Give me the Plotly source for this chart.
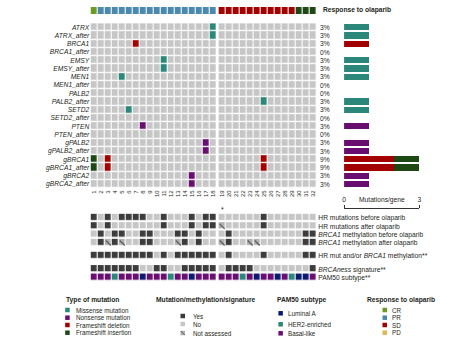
import plotly.graph_objects as go

# ---------------- data ----------------
patients = list(range(1, 33))
response = ["CR", "PR", "PR", "PR", "PR", "PR", "PR", "PR", "PR", "PR", "PR", "PR", "PR", "PR", "PR", "PR",
            "PR", "PR", "SD", "SD", "SD", "SD", "SD", "SD", "SD", "SD", "SD", "SD", "SD", "PD", "PD", "PD"]
genes = ["ATRX", "ATRX_after", "BRCA1", "BRCA1_after", "EMSY", "EMSY_after", "MEN1", "MEN1_after",
         "PALB2", "PALB2_after", "SETD2", "SETD2_after", "PTEN", "PTEN_after", "gPALB2", "gPALB2_after",
         "gBRCA1", "gBRCA1_after", "gBRCA2", "gBRCA2_after"]
mut_gene = ["ATRX", "ATRX_after", "BRCA1", "EMSY", "EMSY_after", "MEN1", "PALB2_after", "SETD2", "PTEN",
            "gPALB2", "gPALB2_after", "gBRCA1", "gBRCA1", "gBRCA1", "gBRCA1_after", "gBRCA1_after",
            "gBRCA1_after", "gBRCA2", "gBRCA2_after"]
mut_patient = [18, 18, 7, 11, 11, 5, 25, 6, 8, 17, 17, 1, 3, 25, 1, 3, 25, 15, 15]
mut_type = ["Missense", "Missense", "Frameshift deletion", "Missense", "Missense", "Missense", "Missense",
            "Missense", "Nonsense", "Nonsense", "Nonsense", "Frameshift insertion", "Frameshift deletion",
            "Frameshift deletion", "Frameshift insertion", "Frameshift deletion", "Frameshift deletion",
            "Nonsense", "Nonsense"]
mut_types = ["Missense", "Nonsense", "Frameshift deletion", "Frameshift insertion"]

track_labels = ["HR mutations before olaparib", "HR mutations after olaparib",
                "<i>BRCA1</i> methylation before olaparib", "<i>BRCA1</i> methylation after olaparib",
                "HR mut and/or <i>BRCA1</i> methylation**", "<i>BRCAness</i> signature**", "PAM50 subtype**"]
# 1 = yes, 0 = no, -1 = not assessed
hr_before = [1, 0, 1, 0, 1, 1, 1, 1, 0, 0, 1, 0, 0, 0, 1, 0, 1, 1, 0, 0, 0, 0, 0, 0, 1, 0, 0, 0, 0, 0, 0, 0]
hr_after = [1, 0, 1, 0, 0, 0, 0, 0, 0, 0, 1, 0, 0, 0, 1, 0, 1, 1, -1, 0, 0, 0, 0, 0, 1, 0, 0, 0, 0, 0, 0, 0]
meth_before = [0, 1, 0, 1, 1, 0, 0, 1, 1, 0, 0, 0, 1, 1, 0, 1, 0, 0, 0, 1, 0, 0, 0, 0, 0, 0, 0, 0, 0, 0, 1, 1]
meth_after = [0, 1, -1, 1, -1, 0, 0, 1, 1, 0, 0, 0, -1, 1, 0, 1, 0, 0, -1, 1, 0, 0, -1, -1, 0, 0, 0, 0, 0, 0, 1, 1]
hr_or_meth = [1, 1, 1, 1, 1, 1, 1, 1, 1, 0, 1, 0, 1, 1, 1, 1, 1, 1, 0, 1, 0, 0, 0, 0, 1, 0, 0, 0, 0, 0, 1, 1]
brcaness = [1, 1, 1, 1, 1, 1, 1, 0, 0, 1, 1, 0, 0, 1, 1, 1, 1, 1, 0, 1, 1, 1, 1, 0, 0, 0, 0, 0, 0, 0, 0, 1]
pam50 = ["Basal-like", "Basal-like", "Basal-like", "HER2-enriched", "Basal-like", "Basal-like", "Basal-like",
         "Luminal A", "Basal-like", "Basal-like", "Basal-like", "HER2-enriched", "Basal-like", "Basal-like",
         "Luminal A", "Basal-like", "Basal-like", "Basal-like", "Basal-like", "Basal-like", "Basal-like",
         "HER2-enriched", "Basal-like", "Luminal A", "Basal-like", "Basal-like", "Luminal A", "Basal-like",
         "HER2-enriched", "Luminal A", "Luminal A", "Basal-like"]

leg_mut_labels = ["Missense mutation", "Nonsense mutation", "Frameshift deletion", "Frameshift insertion"]
leg_status_labels = ["Yes", "No", "Not assessed"]
leg_pam_labels = ["Luminal A", "HER2-enriched", "Basal-like"]
leg_resp_labels = ["CR", "PR", "SD", "PD"]

# ---------------- styles ----------------
W, H = 474, 341
FONT = "Liberation Sans, Arial, Helvetica, sans-serif"
TXT = "#231f20"
COL = {
    "none": "#c6c6c6", "Missense": "#2a8779", "Nonsense": "#6a0d70",
    "Frameshift deletion": "#a30000", "Frameshift insertion": "#1d4813",
    "yes": "#3c3c3c", "na": "#b0b0b0",
    "CR": "#6c9b21", "PR": "#4a88ae", "SD": "#a30000", "PD": "#1d4813",
    "Luminal A": "#0b1a70", "HER2-enriched": "#2a8779", "Basal-like": "#6a0d70",
}
PD_LEGEND = "#e2b84c"
keys = list(COL.keys())
code = {k: i for i, k in enumerate(keys)}
n = len(keys)
cscale = []
for i, k in enumerate(keys):
    cscale += [[i / n, COL[k]], [(i + 1) / n, COL[k]]]

X_DOM = (89, 318)
PXC = 7.07
GAP = 0.25


def xpos(p):
    return p + (GAP if p > 18 else 0)


def py(v):
    return 1 - v / H


def pxx(v):
    return v / W


halves = [[p for p in patients if p <= 18], [p for p in patients if p > 18]]

fig = go.Figure()


def add_hm(cols_vals, yval, yaxis, ygap):
    # cols_vals: full list of 32 codes for a row, or list of rows
    rows = cols_vals
    for half in halves:
        z = [[r[p - 1] for p in half] for r in rows]
        fig.add_trace(go.Heatmap(
            x=[xpos(p) for p in half], y=yval, z=z, colorscale=cscale, zmin=-0.5, zmax=n - 0.5,
            showscale=False, xgap=1.1, ygap=ygap, xaxis="x", yaxis=yaxis, hoverinfo="skip"))


# response row
add_hm([[code[r] for r in response]], [0], "y", 0)

# mutation grid
grid = [[code["none"]] * len(patients) for _ in genes]
for g, p, t in zip(mut_gene, mut_patient, mut_type):
    grid[genes.index(g)][p - 1] = code[t]
add_hm(grid, list(range(len(genes))), "y2", 1.3)

# bars (mutations per gene)
for t in mut_types:
    counts = [sum(1 for g2, t2 in zip(mut_gene, mut_type) if g2 == g and t2 == t) for g in genes]
    fig.add_trace(go.Bar(x=counts, y=list(range(len(genes))), orientation="h", width=0.74,
                         marker=dict(color=COL[t], line=dict(width=0)), xaxis="x2", yaxis="y2",
                         hoverinfo="skip"))

# bottom tracks
TRACK_POS = [0, 1, 2, 3, 4.55, 6.14, 7.16]
status_tracks = [hr_before, hr_after, meth_before, meth_after, hr_or_meth, brcaness]
smap = {1: code["yes"], 0: code["none"], -1: code["na"]}
for tr, pos in zip(status_tracks, TRACK_POS):
    add_hm([[smap[v] for v in tr]], [pos], "y3", 1.8)
add_hm([[code[v] for v in pam50]], [TRACK_POS[6]], "y3", 1.8)
# hatching for not assessed
hx, hy = [], []
for tr, pos in zip(status_tracks, TRACK_POS):
    for p, v in zip(patients, tr):
        if v == -1:
            hx.append(xpos(p))
            hy.append(pos)
fig.add_trace(go.Scatter(x=hx, y=hy, mode="markers", xaxis="x", yaxis="y3", hoverinfo="skip",
                         marker=dict(symbol="line-nw", size=5, line=dict(color="#5e5e5e", width=1.2))))

# percentages
annotations = []
for i, g in enumerate(genes):
    c = sum(1 for g2 in mut_gene if g2 == g)
    annotations.append(dict(text=f"{round(100 * c / len(patients))}%", x=pxx(319), xref="paper",
                            y=i, yref="y2", xanchor="left", yanchor="middle", showarrow=False,
                            font=dict(size=6.7, color=TXT, family=FONT)))
annotations.append(dict(text="Mutations/gene", x=pxx(383), xref="paper", y=py(199.5), yref="paper",
                        xanchor="center", yanchor="middle", showarrow=False,
                        font=dict(size=6.7, color=TXT, family=FONT)))
annotations.append(dict(text="<b>Response to olaparib</b>", x=pxx(321.5), xref="paper", y=py(10.5),
                        yref="paper", xanchor="left", yanchor="middle", showarrow=False,
                        font=dict(size=6.7, color=TXT, family=FONT)))
annotations.append(dict(text="*", x=xpos(19), xref="x", y=py(209.5), yref="paper", xanchor="center",
                        yanchor="middle", showarrow=False, font=dict(size=7, color=TXT, family=FONT)))

# legends
groups = [
    dict(title="Type of mutation", tx=63, mx=66, lx=73, ys=[310, 317.7, 325, 332.7],
         labels=leg_mut_labels, colors=[COL[t] for t in mut_types], hatch=[]),
    dict(title="Mutation/methylation/signature", tx=153, mx=182.3, lx=190.5, ys=[316, 324, 333],
         labels=leg_status_labels, colors=[COL["yes"], COL["none"], COL["na"]], hatch=[2]),
    dict(title="PAM50 subtype", tx=275, mx=281, lx=286.5, ys=[313.3, 324.3, 333.3],
         labels=leg_pam_labels, colors=[COL[k] for k in leg_pam_labels], hatch=[]),
    dict(title="Response to olaparib", tx=366, mx=386, lx=391.5, ys=[310, 317.7, 325, 332.7],
         labels=leg_resp_labels, colors=[COL["CR"], COL["PR"], COL["SD"], PD_LEGEND], hatch=[]),
]
for gr in groups:
    annotations.append(dict(text=f"<b>{gr['title']}</b>", x=pxx(gr["tx"]), xref="paper", y=py(300),
                            yref="paper", xanchor="left", yanchor="middle", showarrow=False,
                            font=dict(size=6.7, color=TXT, family=FONT)))
    fig.add_trace(go.Scatter(x=[gr["mx"]] * len(gr["ys"]), y=gr["ys"], mode="markers", xaxis="x3",
                             yaxis="y4", hoverinfo="skip",
                             marker=dict(symbol="square", size=4.5, color=gr["colors"], line=dict(width=0))))
    for hi in gr["hatch"]:
        fig.add_trace(go.Scatter(x=[gr["mx"]], y=[gr["ys"][hi]], mode="markers", xaxis="x3", yaxis="y4",
                                 hoverinfo="skip",
                                 marker=dict(symbol="line-nw", size=4, line=dict(color="#5e5e5e", width=1))))
    for lab, yy in zip(gr["labels"], gr["ys"]):
        annotations.append(dict(text=lab, x=pxx(gr["lx"]), xref="paper", y=py(yy), yref="paper",
                                xanchor="left", yanchor="middle", showarrow=False,
                                font=dict(size=6.3, color=TXT, family=FONT)))

x_r0 = 1 - 4 / PXC
x_r1 = x_r0 + (X_DOM[1] - X_DOM[0]) / PXC
U3 = 8.345

fig.update_layout(
    width=W, height=H, margin=dict(l=0, r=0, t=0, b=0),
    paper_bgcolor="white", plot_bgcolor="rgba(0,0,0,0)", showlegend=False, barmode="stack",
    font=dict(family=FONT, color=TXT, size=6.7),
    xaxis=dict(domain=[pxx(X_DOM[0]), pxx(X_DOM[1])], range=[x_r0, x_r1], anchor="y2",
               tickvals=[xpos(p) for p in patients], ticktext=[str(p) for p in patients],
               tickangle=-90, tickfont=dict(size=6, color=TXT), ticks="", showgrid=False,
               zeroline=False, showline=False),
    yaxis=dict(domain=[py(14), py(7)], range=[-0.5, 0.5], anchor="x", visible=False),
    yaxis2=dict(domain=[py(27.3 + 19.5 * 8.25), py(27.3 - 0.5 * 8.25)], range=[19.5, -0.5], anchor="x",
                tickvals=list(range(len(genes))), ticktext=[f"<i>{g}</i>" for g in genes],
                tickfont=dict(size=6.7, color=TXT), ticks="", showgrid=False, zeroline=False,
                showline=False),
    yaxis3=dict(domain=[py(218 + 7.8 * U3), py(218 - 0.6 * U3)], range=[7.8, -0.6], anchor="x",
                side="right", tickvals=TRACK_POS, ticktext=track_labels,
                tickfont=dict(size=6.7, color=TXT), ticks="", showgrid=False, zeroline=False,
                showline=False),
    xaxis2=dict(domain=[pxx(345), pxx(421)], range=[0, 3], anchor="free", position=py(208), side="top",
                showline=True, linecolor="#333", linewidth=1, ticks="outside", ticklen=3,
                tickcolor="#333", tickwidth=1, tickvals=[0, 3], ticktext=["0", "3"],
                tickfont=dict(size=6.7, color=TXT), showgrid=False, zeroline=False),
    xaxis3=dict(domain=[0, 1], range=[0, W], anchor="y4", visible=False),
    yaxis4=dict(domain=[0, 1], range=[H, 0], anchor="x3", visible=False),
    annotations=annotations,
)

fig.write_html("out.html")
